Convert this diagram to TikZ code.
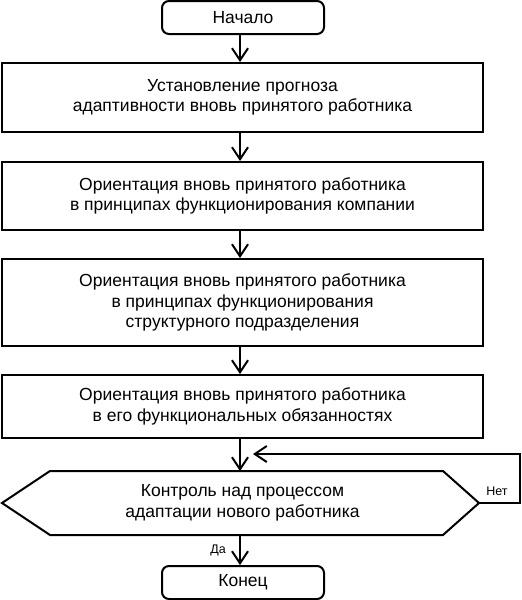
\documentclass[tikz,border=0pt]{standalone}
\usepackage{fontspec}
\setmainfont{Liberation Sans}
\usetikzlibrary{arrows.meta}
\begin{document}
\begin{tikzpicture}[x=1pt,y=-1pt,
  line width=2pt,
  arr/.style={-{Straight Barb[length=12pt,width=16pt,line width=2pt]}},
  term/.style={draw,rounded corners=7pt,minimum width=162pt,minimum height=33pt,inner sep=0pt},
  proc/.style={draw,minimum width=481pt,inner sep=0pt,align=center},
  txt/.style={font=\fontsize{17.5}{20.5}\selectfont},
  lbl/.style={font=\fontsize{12.5}{14}\selectfont}]
\useasboundingbox (0,0) rectangle (522,600);
\node[term,txt] (start) at (243,17.5) {Начало};
\node[proc,txt,minimum height=69pt] (b1) at (242.5,97.5) {Установление прогноза\\адаптивности вновь принятого работника};
\node[proc,txt,minimum height=68pt] (b2) at (242.5,196) {Ориентация вновь принятого работника\\в принципах функционирования компании};
\node[proc,txt,minimum height=87pt] (b3) at (242.5,302.5) {Ориентация вновь принятого работника\\в принципах функционирования\\структурного подразделения};
\node[proc,txt,minimum height=63pt] (b4) at (242.5,406.5) {Ориентация вновь принятого работника\\в его функциональных обязанностях};
\coordinate (hL) at (2,503);
\coordinate (hTL) at (50,471);
\coordinate (hTR) at (443,471);
\coordinate (hR) at (479,503);
\coordinate (hBR) at (443,535);
\coordinate (hBL) at (50,535);
\draw[line join=miter] (hL) -- (hTL) -- (hTR) -- (hR) -- (hBR) -- (hBL) -- cycle;
\node[txt,align=center] (ctrl) at (242.5,503) {Контроль над процессом\\адаптации нового работника};
\coordinate (hTop) at (240,471);
\coordinate (hBot) at (240,535);
\node[term,txt] (end) at (243,582.5) {Конец};
\draw[arr] (start.south -| 240,0) -- (b1.north -| 240,0);
\draw[arr] (b1.south -| 240,0) -- (b2.north -| 240,0);
\draw[arr] (b2.south -| 240,0) -- (b3.north -| 240,0);
\draw[arr] (b3.south -| 240,0) -- (b4.north -| 240,0);
\draw[arr] (b4.south -| 240,0) -- (hTop);
\draw[arr] (hBot) -- (end.north -| 240,0);
\coordinate (fb1) at (520,503);
\coordinate (fb2) at (520,454);
\coordinate (fb3) at (253,454);
\draw[arr,line join=miter] (hR) -- (fb1) -- (fb2) -- (fb3);
\node[lbl] (no) at (497,491) {Нет};
\node[lbl] (yes) at (218,550) {Да};
\end{tikzpicture}
\end{document}
